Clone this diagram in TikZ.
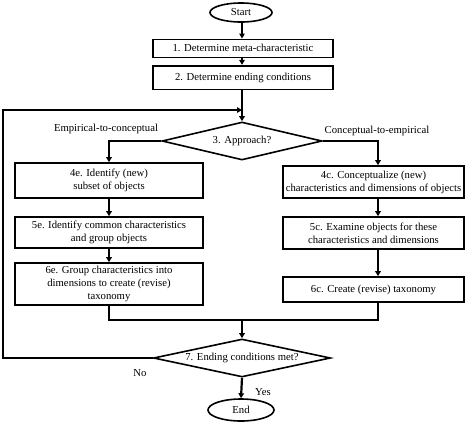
\documentclass[tikz,border=0pt]{standalone}
\usepackage{fontspec}
\setmainfont{Liberation Serif}
\usetikzlibrary{shapes.geometric,arrows.meta}
\begin{document}
\begin{tikzpicture}[x=1pt,y=-1pt,
  every node/.style={font=\fontsize{10.7}{13}\selectfont},
  box/.style={draw,line width=1.6pt,rectangle,inner sep=1pt,align=center},
  term/.style={draw,line width=1.6pt,ellipse,inner sep=0pt},
  dec/.style={draw,line width=1.6pt,diamond,inner sep=0pt,aspect=4.5},
  conn/.style={line width=2.2pt},
  arr/.style={conn,-{Triangle[width=5.5pt,length=5pt]}},
  lbl/.style={inner sep=0pt}]
\useasboundingbox (0,0) rectangle (474,424);
\coordinate (rx) at (378,0);
\node[term,minimum width=62pt,minimum height=19pt] (start) at (241,12.5) {Start};
\node[box,minimum width=180pt,minimum height=18pt] (b1) at (243,48.3) {1. Determine meta-characteristic};
\node[box,minimum width=180pt,minimum height=23.6pt] (b2) at (243,77.5) {2. Determine ending conditions};
\node[dec,minimum width=160pt,minimum height=38pt] (d3) at (242,141) {3. Approach?};
\node[box,minimum width=188pt,minimum height=35pt] (e4) at (109,180.5) {4e. Identify (new)\\subset of objects};
\node[box,minimum width=181pt,minimum height=32pt] (c4) at (373.5,182) {4c. Conceptualize (new)\\characteristics and dimensions of objects};
\node[box,minimum width=188pt,minimum height=31pt] (e5) at (109,232.5) {5e. Identify common characteristics\\and group objects};
\node[box,minimum width=181pt,minimum height=32pt] (c5) at (373.5,233) {5c. Examine objects for these\\characteristics and dimensions};
\node[box,minimum width=188pt,minimum height=42pt] (e6) at (109,284) {6e. Group characteristics into\\dimensions to create (revise)\\taxonomy};
\node[box,minimum width=181pt,minimum height=25pt] (c6) at (373.5,289.5) {6c. Create (revise) taxonomy};
\node[dec,minimum width=177pt,minimum height=38pt] (d7) at (242,358) {7. Ending conditions met?};
\node[term,minimum width=66pt,minimum height=22pt] (end) at (241,410) {End};
\node[lbl] (lE) at (106,129) {Empirical-to-conceptual};
\node[lbl] (lC) at (377,131) {Conceptual-to-empirical};
\node[lbl] (lNo) at (140,373) {No};
\node[lbl] (lYes) at (263,392) {Yes};
\coordinate (top) at (242,110);
\coordinate (lefttop) at (3,110);
\coordinate (merge) at (242,320);
\draw[arr] (start.south -| top) -- (b1.north -| top);
\draw[arr] (b1.south -| top) -- (b2.north -| top);
\draw[arr] (b2.south -| top) -- (d3.north);
\draw[arr] (d3.west) -| (e4.north);
\draw[arr] (d3.east) -| (c4.north -| rx);
\draw[arr] (e4) -- (e5);
\draw[arr] (c4.south -| rx) -- (c5.north -| rx);
\draw[arr] (e5) -- (e6);
\draw[arr] (c5.south -| rx) -- (c6.north -| rx);
\draw[conn] (e6.south) |- (merge) -| (c6.south -| rx);
\draw[arr] (merge) -- (d7.north);
\draw[arr] (d7.west) -| (lefttop) -- (top);
\draw[arr] (d7.south) -- (end.north);
\end{tikzpicture}
\end{document}
